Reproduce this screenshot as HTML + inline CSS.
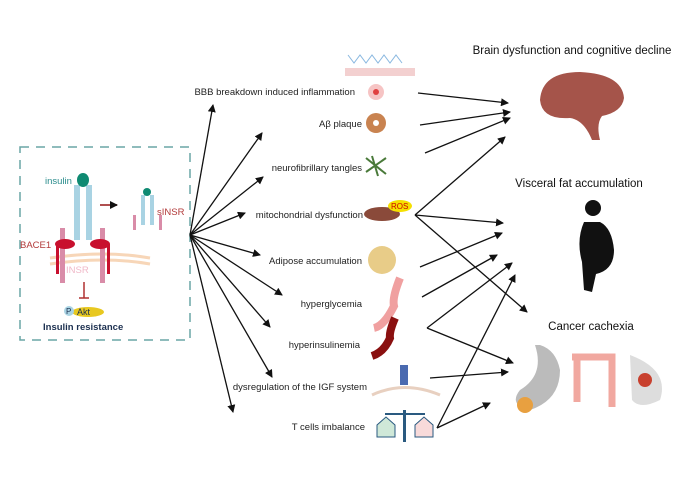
<!DOCTYPE html>
<html><head><meta charset="utf-8"><style>
html,body{margin:0;padding:0;background:#fff;}
svg{display:block;font-family:"Liberation Sans",sans-serif;}
</style></head><body>
<svg width="700" height="490" viewBox="0 0 700 490" xmlns="http://www.w3.org/2000/svg">
<defs>
<marker id="a" markerWidth="8" markerHeight="8" refX="7" refY="4" orient="auto" markerUnits="userSpaceOnUse">
<path d="M0,0 L8,4 L0,8 Z" fill="#111"/></marker>
</defs>
<rect width="700" height="490" fill="#fff"/>
<!-- left box -->
<rect x="20" y="147" width="170" height="193" fill="none" stroke="#6aa5a5" stroke-width="1.5" stroke-dasharray="9,7"/>
<path d="M50 258 Q105 250 150 258" stroke="#f7d6b8" stroke-width="3" fill="none"/>
<path d="M50 264 Q105 256 150 264" stroke="#f7d6b8" stroke-width="3" fill="none"/>
<rect x="74" y="185" width="6" height="55" fill="#a9d3e3"/>
<rect x="86" y="185" width="6" height="55" fill="#a9d3e3"/>
<ellipse cx="83" cy="180" rx="6" ry="7" fill="#0f8a72"/>
<rect x="60" y="228" width="5" height="55" fill="#d98ca8"/>
<rect x="100" y="228" width="5" height="55" fill="#d98ca8"/>
<ellipse cx="65" cy="244" rx="10" ry="5" fill="#c8102e"/>
<ellipse cx="100" cy="244" rx="10" ry="5" fill="#c8102e"/>
<rect x="56" y="244" width="3" height="30" fill="#c8102e"/><rect x="107" y="244" width="3" height="30" fill="#c8102e"/>
<text x="45" y="184" font-size="9.5" fill="#2a8c8c">insulin</text>
<text x="20" y="248" font-size="9.5" fill="#b23a3a">BACE1</text>
<text x="66" y="273" font-size="9.5" fill="#f0b8c8">INSR</text>
<line x1="100" y1="205" x2="117" y2="205" stroke="#b05050" stroke-width="2" marker-end="url(#a)"/>
<rect x="141" y="195" width="4" height="30" fill="#a9d3e3"/><rect x="150" y="195" width="4" height="30" fill="#a9d3e3"/>
<circle cx="147" cy="192" r="4" fill="#0f8a72"/>
<rect x="133" y="215" width="3" height="15" fill="#d98ca8"/><rect x="159" y="215" width="3" height="15" fill="#d98ca8"/>
<text x="157" y="215" font-size="9.5" fill="#b23a3a">sINSR</text>
<line x1="84" y1="282" x2="84" y2="298" stroke="#b03030" stroke-width="1.5"/>
<line x1="79" y1="298" x2="89" y2="298" stroke="#b03030" stroke-width="1.5"/>
<ellipse cx="88" cy="312" rx="16" ry="5" fill="#e8c820"/>
<circle cx="69" cy="311" r="5" fill="#a9d3e3"/>
<text x="66" y="314" font-size="8" fill="#1c3050">P</text>
<text x="77" y="315" font-size="9" fill="#1c3050">Akt</text>
<text x="43" y="330" font-size="9.5" font-weight="bold" fill="#1c3050">Insulin resistance</text>
<!-- left arrows -->
<g stroke="#111" stroke-width="1.3" marker-end="url(#a)">
<line x1="190" y1="235" x2="213" y2="105"/>
<line x1="190" y1="235" x2="262" y2="133"/>
<line x1="190" y1="235" x2="263" y2="177"/>
<line x1="190" y1="235" x2="245" y2="213"/>
<line x1="190" y1="235" x2="260" y2="255"/>
<line x1="190" y1="235" x2="282" y2="295"/>
<line x1="190" y1="235" x2="270" y2="327"/>
<line x1="190" y1="235" x2="272" y2="377"/>
<line x1="190" y1="235" x2="233" y2="412"/>
<line x1="418" y1="93" x2="508" y2="103"/>
<line x1="420" y1="125" x2="510" y2="112"/>
<line x1="425" y1="153" x2="510" y2="118"/>
<line x1="415" y1="215" x2="505" y2="137"/>
<line x1="415" y1="215" x2="503" y2="223"/>
<line x1="415" y1="215" x2="527" y2="312"/>
<line x1="420" y1="267" x2="502" y2="233"/>
<line x1="422" y1="297" x2="497" y2="255"/>
<line x1="427" y1="328" x2="512" y2="263"/>
<line x1="427" y1="328" x2="513" y2="363"/>
<line x1="430" y1="378" x2="508" y2="372"/>
<line x1="437" y1="428" x2="515" y2="275"/>
<line x1="437" y1="428" x2="490" y2="403"/>
</g>
<!-- labels -->
<g font-size="9.5" fill="#222" text-anchor="end">
<text x="355" y="95">BBB breakdown induced inflammation</text>
<text x="362" y="127">Aβ plaque</text>
<text x="362" y="171">neurofibrillary tangles</text>
<text x="363" y="218">mitochondrial dysfunction</text>
<text x="362" y="264">Adipose accumulation</text>
<text x="362" y="307">hyperglycemia</text>
<text x="360" y="348">hyperinsulinemia</text>
<text x="367" y="390">dysregulation of the IGF system</text>
<text x="365" y="430">T cells imbalance</text>
</g>
<!-- icons -->
<rect x="345" y="68" width="70" height="8" fill="#f3d0d0"/>
<path d="M348 55 l6 8 l6-8 l6 8 l6-8 l6 8 l6-8 l6 8 l6-8 l6 8" stroke="#8ab8e0" fill="none"/>
<circle cx="376" cy="92" r="8" fill="#f6c4c4"/><circle cx="376" cy="92" r="3" fill="#e04040"/>
<circle cx="376" cy="123" r="10" fill="#c98350"/><circle cx="376" cy="123" r="3" fill="#fff"/>
<path d="M366 158 l20 16 M366 172 l20-14 M372 156 l6 20" stroke="#4a7a3a" stroke-width="2"/>
<ellipse cx="382" cy="214" rx="18" ry="7" fill="#8a4a3a"/>
<ellipse cx="400" cy="206" rx="12" ry="6" fill="#f5e000"/>
<text x="391" y="209" font-size="8" fill="#c00">ROS</text>
<circle cx="382" cy="260" r="14" fill="#e8cc88"/>
<path d="M400 278 q-8 20 -6 28 q-10 20 -20 22" stroke="#f0a0a0" stroke-width="8" fill="none"/>
<path d="M395 318 q-6 14 -5 20 q-6 14 -18 18" stroke="#8a1010" stroke-width="8" fill="none"/>
<rect x="400" y="365" width="8" height="20" fill="#4a6ab0"/>
<path d="M372 395 Q404 380 440 395" stroke="#e8d0c0" stroke-width="3" fill="none"/>
<rect x="403" y="410" width="3" height="32" fill="#2a5a80"/>
<line x1="385" y1="414" x2="425" y2="414" stroke="#2a5a80" stroke-width="2"/>
<path d="M377 425 l9-8 l9 8 v12 h-18z" fill="#cfe8d8" stroke="#2a5a80"/>
<path d="M415 425 l9-8 l9 8 v12 h-18z" fill="#f8dada" stroke="#2a5a80"/>
<!-- right titles -->
<g font-size="11.5" fill="#111" text-anchor="middle">
<text x="572" y="54">Brain dysfunction and cognitive decline</text>
<text x="579" y="187">Visceral fat accumulation</text>
<text x="591" y="330">Cancer cachexia</text>
</g>
<path d="M540 100 Q542 72 580 72 Q622 74 624 98 Q622 112 602 116 Q596 124 600 140 L592 140 Q584 120 570 118 Q542 120 540 100Z" fill="#a5544a"/>
<circle cx="593" cy="208" r="8" fill="#111"/>
<path d="M584 222 Q576 240 582 262 L584 290 L592 292 L596 274 Q614 270 614 250 Q612 228 600 222Z" fill="#111"/>
<path d="M535 345 Q545 375 520 390 Q508 405 530 410 Q560 400 560 370 Q556 350 540 345Z" fill="#bbb"/>
<circle cx="525" cy="405" r="8" fill="#e8a040"/>
<path d="M572 357 h40 v50 M577 357 v45" stroke="#f1a8a0" stroke-width="7" fill="none"/>
<path d="M630 355 Q670 370 660 400 Q640 410 632 400Z" fill="#ddd"/>
<circle cx="645" cy="380" r="7" fill="#c8402e"/>
</svg>
</body></html>
